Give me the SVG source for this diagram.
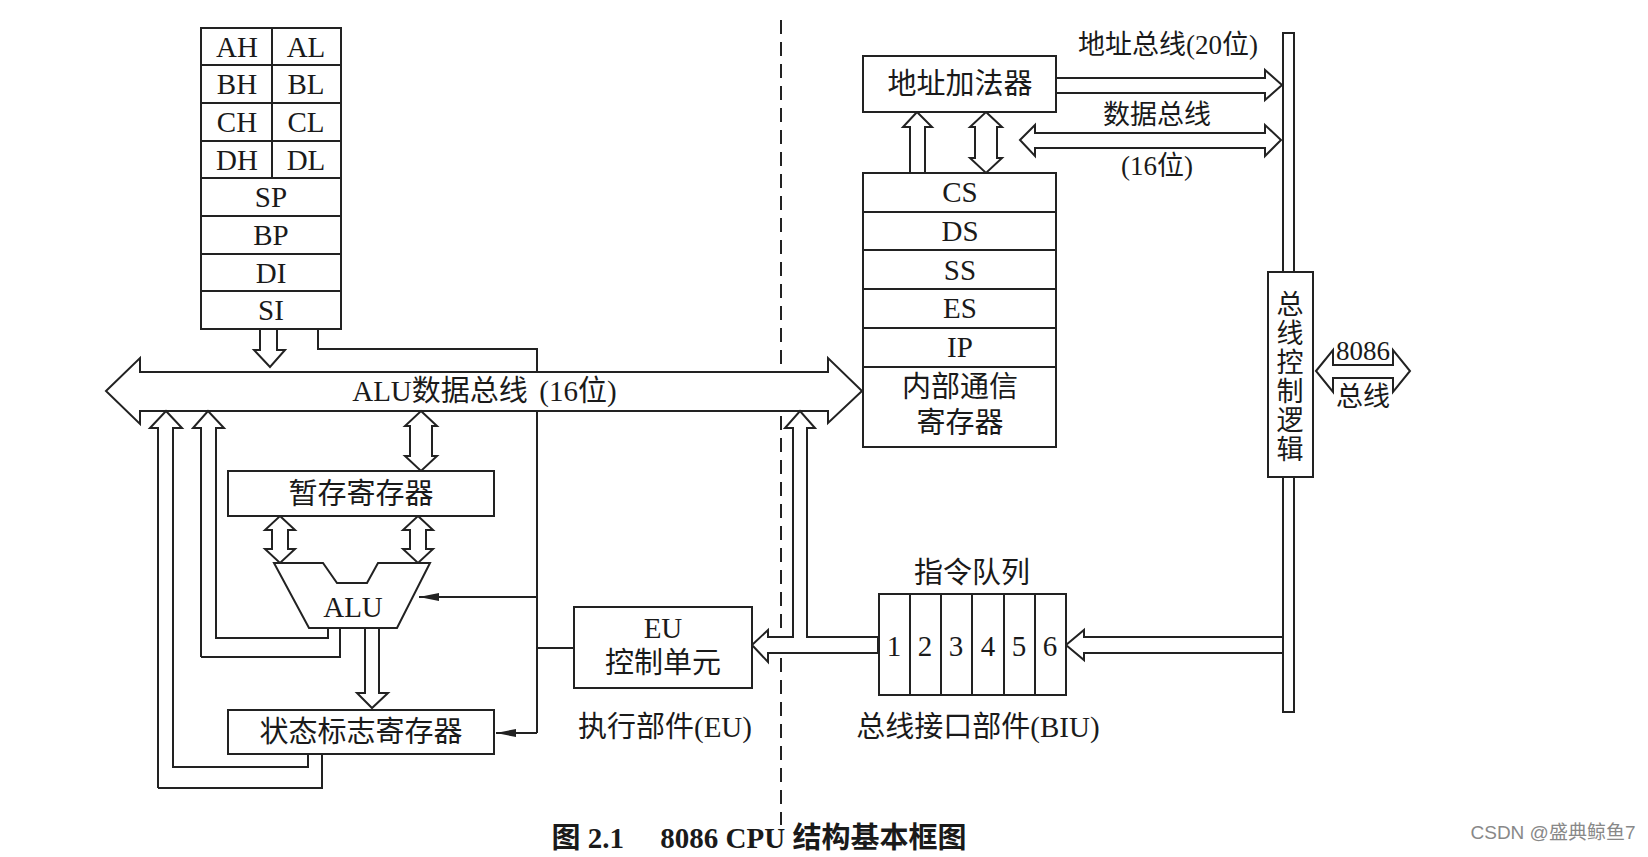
<svg xmlns="http://www.w3.org/2000/svg" width="1648" height="857" viewBox="0 0 1648 857">
<defs>
<style>
.b{fill:#fff;stroke:#222;stroke-width:2}
.n{fill:none;stroke:#222;stroke-width:2}
.w{fill:#fff;stroke:#222;stroke-width:2;stroke-linejoin:miter}
text{font-family:"Liberation Serif","Noto Sans CJK SC",serif;fill:#1a1a1a;text-anchor:middle;dominant-baseline:central}
.t{font-size:29px}
.c{font-size:27px}
</style>
<marker id="fb" viewBox="0 0 20 10" refX="20" refY="5" markerWidth="20" markerHeight="10" markerUnits="userSpaceOnUse" orient="auto"><path d="M0,1 L20,5 L0,9 Z" fill="#222"/></marker>
</defs>
<rect width="1648" height="857" fill="#fff"/>
<g id="connectors">
<line x1="781" y1="20" x2="781" y2="825" stroke="#222" stroke-width="2" stroke-dasharray="14 8"/>
<polygon class="w" points="106,391 140,358 140,372 828,372 828,358 862,391 828,423 828,411 140,411 140,424"/>
<polyline class="n" points="260,329 260,350 254,350 270,367 285,350 277,350 277,329"/>
<polyline class="n" points="318,329 318,349 537,349 537,372"/>
<line class="n" x1="537" y1="411" x2="537" y2="733"/>
<line class="n" x1="537" y1="597" x2="419" y2="597" marker-end="url(#fb)"/>
<line class="n" x1="537" y1="733" x2="496" y2="733" marker-end="url(#fb)"/>
<line class="n" x1="537" y1="648" x2="574" y2="648"/>
<path class="n" d="M158,788 L158,428 L150,428 L166,411 L182,428 L173,428 L173,767 L308,767 L308,754 M158,788 L322,788 L322,754"/>
<path class="n" d="M201,657 L201,428 L193,428 L208,411 L224,428 L216,428 L216,638 L328,638 L328,628 M201,657 L340,657 L340,628"/>
<polygon class="w" points="421,411 437,426 432,426 432,456 437,456 421,471 405,456 410,456 410,426 405,426"/>
<polygon class="w" points="280,516 295,530 288,530 288,549 295,549 280,563 265,549 272,549 272,530 265,530"/>
<polygon class="w" points="418,516 433,530 426,530 426,549 433,549 418,563 403,549 410,549 410,530 403,530"/>
<polyline class="w" points="365,628 365,693 357,693 372,708 388,693 379,693 379,628"/>
<polygon class="w" points="752,645 768,630 768,637 793,637 793,428 785,428 800,411 815,428 807,428 807,637 878,637 878,653 768,653 768,662"/>
<polyline class="w" points="1283,637 1084,637 1084,630 1066,645 1084,660 1084,653 1283,653"/>
<polyline class="w" points="910,173 910,127 903,127 917,112 932,127 925,127 925,173"/>
<polygon class="w" points="986,112 1002,127 997,127 997,158 1002,158 986,173 970,158 975,158 975,127 970,127"/>
<polyline class="w" points="1056,78 1265,78 1265,70 1282,85 1265,100 1265,93 1056,93"/>
<polygon class="w" points="1020,140 1035,125 1035,133 1265,133 1265,125 1281,140 1265,156 1265,148 1035,148 1035,156"/>
<polygon class="w" points="1316,371 1333,350 1333,365 1393,365 1393,350 1410,371 1393,392 1393,378 1333,378 1333,392"/>
<text class="t" x="440" y="391">ALU数据总线</text>
<text class="t" x="578" y="391">(16位)</text>
<text class="c" x="1168" y="45">地址总线(20位)</text>
<text class="c" x="1157" y="115">数据总线</text>
<text class="c" x="1157" y="166">(16位)</text>
<text class="c" x="1363" y="351">8086</text>
<text class="c" x="1363" y="397">总线</text>
</g>
<g id="gp-regs">
<rect class="b" x="201" y="28" width="140" height="301"/>
<path class="n" d="M201,65 H341 M201,103 H341 M201,141 H341 M201,178 H341 M201,216 H341 M201,254 H341 M201,291 H341 M272,28 V178"/>
<text class="t" x="237" y="47">AH</text><text class="t" x="306" y="47">AL</text>
<text class="t" x="237" y="84">BH</text><text class="t" x="306" y="84">BL</text>
<text class="t" x="237" y="122">CH</text><text class="t" x="306" y="122">CL</text>
<text class="t" x="237" y="160">DH</text><text class="t" x="306" y="160">DL</text>
<text class="t" x="271" y="197">SP</text>
<text class="t" x="271" y="235">BP</text>
<text class="t" x="271" y="273">DI</text>
<text class="t" x="271" y="310">SI</text>
</g>
<g id="temp-reg"><rect class="b" x="228" y="471" width="266" height="45"/><text class="t" x="361" y="494">暂存寄存器</text></g>
<g id="alu"><polygon class="b" points="274,563 323,563 337,583 367,583 378,563 430,563 397,628 309,628"/><text class="t" x="353" y="607">ALU</text></g>
<g id="flags"><rect class="b" x="228" y="710" width="266" height="44"/><text class="t" x="361" y="732">状态标志寄存器</text></g>
<g id="eu-ctrl"><rect class="b" x="574" y="607" width="178" height="81"/><text class="t" x="663" y="628">EU</text><text class="t" x="663" y="663">控制单元</text></g>
<text class="t" x="665" y="727">执行部件(EU)</text>
<g id="adder"><rect class="b" x="863" y="56" width="193" height="56"/><text class="t" x="960" y="84">地址加法器</text></g>
<g id="seg-regs">
<rect class="b" x="863" y="173" width="193" height="274"/>
<path class="n" d="M863,212 H1056 M863,250 H1056 M863,289 H1056 M863,328 H1056 M863,367 H1056"/>
<text class="t" x="960" y="192">CS</text><text class="t" x="960" y="231">DS</text><text class="t" x="960" y="270">SS</text><text class="t" x="960" y="308">ES</text><text class="t" x="960" y="347">IP</text>
<text class="t" x="960" y="387">内部通信</text><text class="t" x="960" y="423">寄存器</text>
</g>
<g id="bus-ctrl">
<rect class="b" x="1283" y="33" width="11" height="679"/>
<rect class="b" x="1268" y="272" width="45" height="205"/>
<text class="c" x="1290" y="305">总</text><text class="c" x="1290" y="334">线</text><text class="c" x="1290" y="363">控</text><text class="c" x="1290" y="392">制</text><text class="c" x="1290" y="421">逻</text><text class="c" x="1290" y="450">辑</text>
</g>
<g id="queue">
<rect class="b" x="879" y="594" width="187" height="101"/>
<path class="n" d="M910,594 V695 M941,594 V695 M972,594 V695 M1004,594 V695 M1035,594 V695"/>
<text class="t" x="894" y="646">1</text><text class="t" x="925" y="646">2</text><text class="t" x="956" y="646">3</text><text class="t" x="988" y="646">4</text><text class="t" x="1019" y="646">5</text><text class="t" x="1050" y="646">6</text>
<text class="t" x="972" y="573">指令队列</text>
</g>
<text class="t" x="978" y="727">总线接口部件(BIU)</text>
<text class="t" x="759" y="838" style="font-weight:bold">图 2.1　 8086 CPU 结构基本框图</text>
<text x="1553" y="832" style="font-family:'Liberation Sans','Noto Sans CJK SC',sans-serif;font-size:19px;fill:#888">CSDN @盛典鲸鱼7</text>
</svg>
